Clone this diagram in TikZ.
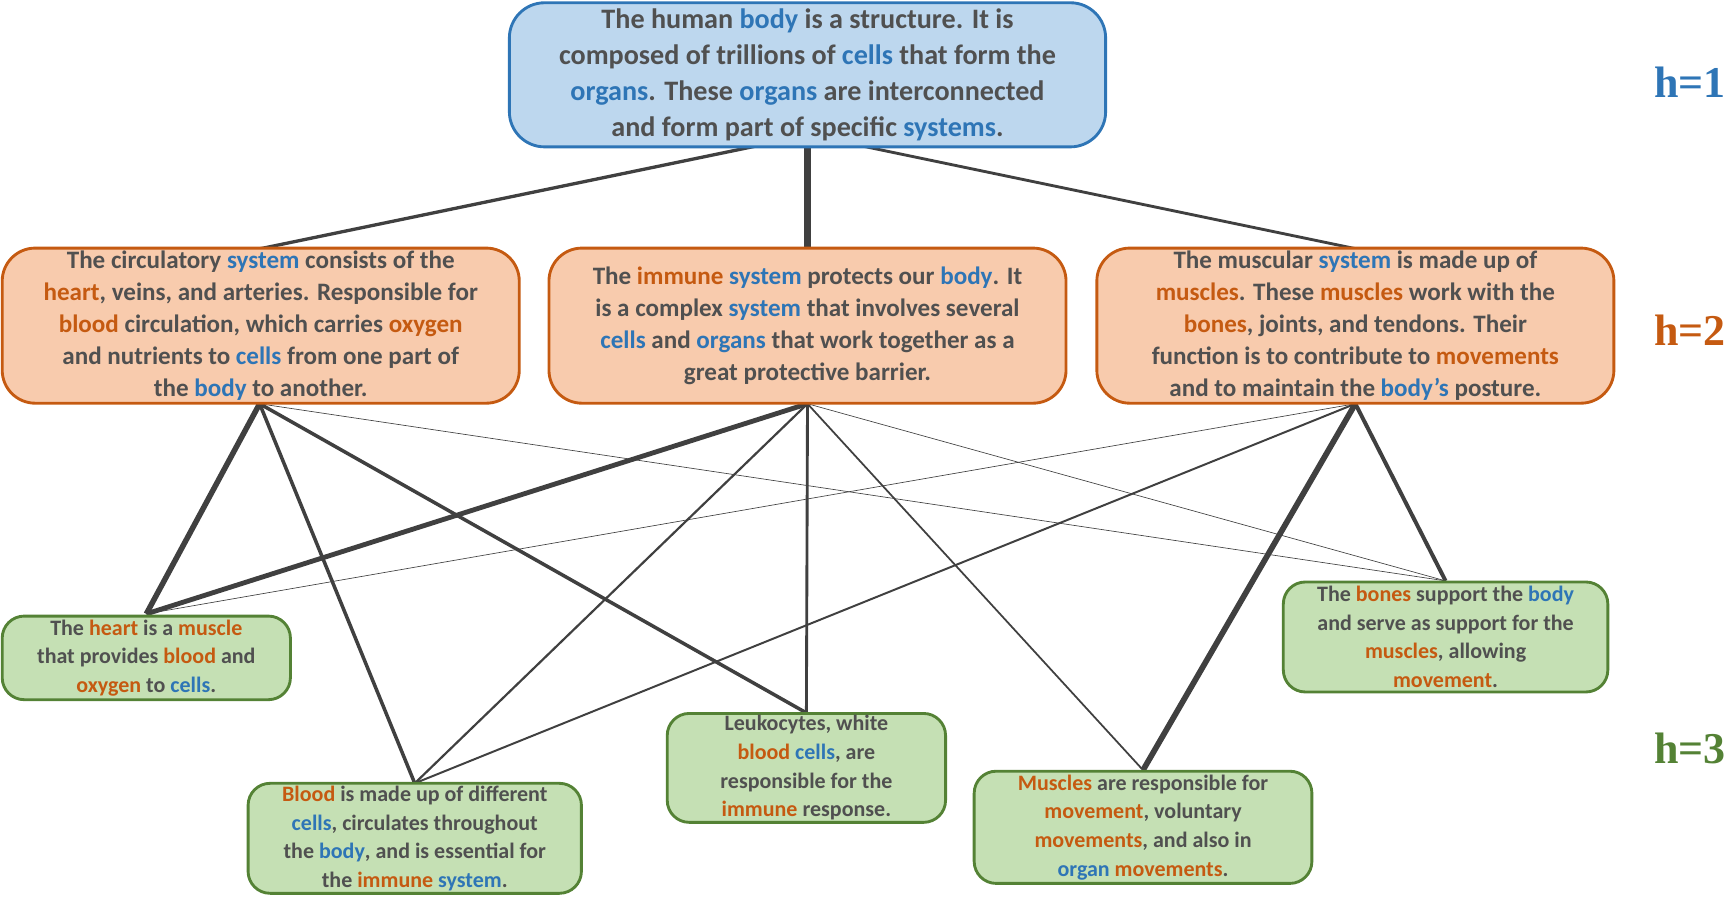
\documentclass[tikz,border=0pt]{standalone}
\usepackage{fontspec}
\setmainfont{Carlito}
\newfontfamily\hfont{Liberation Serif}
\usetikzlibrary{calc}
\definecolor{bT}{RGB}{46,117,182}
\definecolor{bF}{RGB}{189,215,238}
\definecolor{oT}{RGB}{197,90,17}
\definecolor{oF}{RGB}{248,203,173}
\definecolor{gT}{RGB}{84,130,53}
\definecolor{gF}{RGB}{197,224,180}
\definecolor{tx}{RGB}{80,80,80}
\newcommand{\B}[1]{\textcolor{bT}{#1}}
\newcommand{\Or}[1]{\textcolor{oT}{#1}}
\begin{document}
\begin{tikzpicture}[x=0.5pt,y=-0.5pt,
 box/.style={align=center,text=tx,font=\bfseries,line width=1.3pt,inner sep=0pt},
 topbox/.style={box,draw=bT,fill=bF,rounded corners=16pt,minimum width=271pt,minimum height=65.5pt,font=\fontsize{12.8}{16.5}\selectfont\bfseries},
 midbox/.style={box,draw=oT,fill=oF,rounded corners=15pt,minimum width=235pt,minimum height=70.5pt,font=\fontsize{11.4}{14.5}\selectfont\bfseries},
 lowbox/.style={box,draw=gT,fill=gF,rounded corners=10pt,font=\fontsize{10}{13}\selectfont\bfseries},
 ed/.style={draw=black!75},
 hl/.style={font=\hfont\fontsize{20}{20}\selectfont\bfseries}]
\useasboundingbox (0,0) rectangle (1568,815);
% edges first
\coordinate (t1) at (686,133); \coordinate (t2) at (734,133); \coordinate (t3) at (785,133);
\coordinate (c) at (236,367); \coordinate (i) at (734,367); \coordinate (m) at (1232,367);
\coordinate (c0) at (237,226); \coordinate (i0) at (734,226); \coordinate (m0) at (1232,226);
\coordinate (he) at (133,558); \coordinate (bl) at (377,712); \coordinate (le) at (733,648);
\coordinate (mu) at (1039,700); \coordinate (bo) at (1314,528);
\draw[ed,line width=1.5pt] (t1) -- (c0);
\draw[ed,line width=3pt] (t2) -- (i0);
\draw[ed,line width=1.3pt] (t3) -- (m0);
\draw[ed,line width=2.5pt] (c) -- (he);
\draw[ed,line width=1.6pt] (c) -- (bl);
\draw[ed,line width=1.6pt] (c) -- (le);
\draw[ed,line width=0.3pt] (c) -- (bo);
\draw[ed,line width=2.2pt] (i) -- (he);
\draw[ed,line width=1pt] (i) -- (bl);
\draw[ed,line width=1.3pt] (i) -- (le);
\draw[ed,line width=0.8pt] (i) -- (mu);
\draw[ed,line width=0.3pt] (i) -- (bo);
\draw[ed,line width=0.3pt] (m) -- (he);
\draw[ed,line width=0.9pt] (m) -- (bl);
\draw[ed,line width=2.6pt] (m) -- (mu);
\draw[ed,line width=1.8pt] (m) -- (bo);
% nodes
\node[topbox] (top) at (734,68) {The human \B{body} is a structure. It is\\composed of trillions of \B{cells} that form the\\\B{organs}. These \B{organs} are interconnected\\and form part of specific \B{systems}.};
\node[midbox] (circ) at (237,296) {The circulatory \B{system} consists of the\\\Or{heart}, veins, and arteries. Responsible for\\\Or{blood} circulation, which carries \Or{oxygen}\\and nutrients to \B{cells} from one part of\\the \B{body} to another.};
\node[midbox] (imm) at (734,296) {The \Or{immune} \B{system} protects our \B{body}. It\\is a complex \B{system} that involves several\\\B{cells} and \B{organs} that work together as a\\great protective barrier.};
\node[midbox] (mus) at (1232,296) {The muscular \B{system} is made up of\\\Or{muscles}. These \Or{muscles} work with the\\\Or{bones}, joints, and tendons. Their\\function is to contribute to \Or{movements}\\and to maintain the \B{body's} posture.};
\node[lowbox,minimum width=131pt,minimum height=38pt] (heart) at (133,598) {The \Or{heart} is a \Or{muscle}\\that provides \Or{blood} and\\\Or{oxygen} to \B{cells}.};
\node[lowbox,minimum width=151.5pt,minimum height=50pt] (blood) at (377,762) {\Or{Blood} is made up of different\\\B{cells}, circulates throughout\\the \B{body}, and is essential for\\the \Or{immune} \B{system}.};
\node[lowbox,minimum width=126.5pt,minimum height=49.5pt] (leuko) at (733,698) {Leukocytes, white\\\Or{blood} \B{cells}, are\\responsible for the\\\Or{immune} response.};
\node[lowbox,minimum width=153.5pt,minimum height=51pt] (musc) at (1039,752) {\Or{Muscles} are responsible for\\\Or{movement}, voluntary\\\Or{movements}, and also in\\\B{organ} \Or{movements}.};
\node[lowbox,minimum width=147.5pt,minimum height=50pt] (bones) at (1314,579) {The \Or{bones} support the \B{body}\\and serve as support for the\\\Or{muscles}, allowing\\\Or{movement}.};
\node[hl,text=bT] (h1) at (1536,75) {h=1};
\node[hl,text=oT] (h2) at (1536,300) {h=2};
\node[hl,text=gT] (h3) at (1536,680) {h=3};
\end{tikzpicture}
\end{document}
